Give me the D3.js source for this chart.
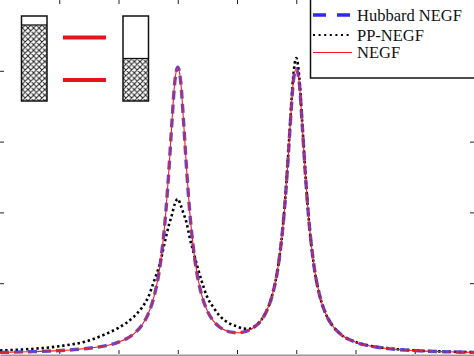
<!DOCTYPE html>
<html>
<head>
<meta charset="utf-8">
<script src="https://cdn.jsdelivr.net/npm/d3@7/dist/d3.min.js"></script>
<style>
  html, body { margin: 0; padding: 0; background: #fff; }
  svg { display: block; }
</style>
</head>
<body>
<svg id="chart" width="474" height="356"></svg>
<script>
// ---- data ----
const energy = [-4, -3.5, -3, -2.5, -2.25, -2, -1.75, -1.6, -1.5, -1.4, -1.3, -1.2, -1.15, -1.1, -1.05, -1,
  -0.95, -0.9, -0.85, -0.8, -0.7, -0.6, -0.5, -0.4, -0.3, -0.2, -0.1, 0, 0.1, 0.2, 0.3, 0.4, 0.5, 0.6, 0.7,
  0.8, 0.85, 0.9, 0.95, 1, 1.05, 1.1, 1.15, 1.2, 1.3, 1.4, 1.5, 1.6, 1.75, 2, 2.25, 2.5, 3, 3.5, 4];

const hubbardNEGF = [0.023, 0.032, 0.048, 0.081, 0.112, 0.167, 0.279, 0.413, 0.564, 0.811, 1.241, 2.017, 2.588, 3.250, 3.841, 4.05,
  3.845, 3.258, 2.600, 2.032, 1.265, 0.844, 0.608, 0.468, 0.385, 0.335, 0.308, 0.300, 0.308, 0.335, 0.385, 0.468, 0.608, 0.844, 1.265,
  2.032, 2.600, 3.258, 3.845, 4.03, 3.841, 3.250, 2.588, 2.017, 1.241, 0.811, 0.564, 0.413, 0.279, 0.167, 0.112, 0.081, 0.048, 0.032, 0.023];

const ppNEGF = [0.05, 0.07, 0.11, 0.19, 0.27, 0.37, 0.52, 0.66, 0.80, 1.03, 1.28, 1.65, 1.82, 1.96, 2.12, 2.19,
  2.10, 1.98, 1.85, 1.65, 1.33, 1.04, 0.80, 0.66, 0.545, 0.47, 0.42, 0.39, 0.36, 0.355, 0.39, 0.47, 0.61, 0.85, 1.27,
  2.04, 2.62, 3.30, 3.93, 4.18, 3.92, 3.28, 2.60, 2.02, 1.24, 0.81, 0.565, 0.415, 0.28, 0.17, 0.115, 0.085, 0.05, 0.035, 0.025];

const negf = [0.023, 0.032, 0.048, 0.081, 0.112, 0.167, 0.279, 0.413, 0.564, 0.811, 1.241, 2.017, 2.588, 3.250, 3.841, 4.05,
  3.845, 3.258, 2.600, 2.032, 1.265, 0.844, 0.608, 0.468, 0.385, 0.335, 0.308, 0.300, 0.308, 0.335, 0.385, 0.468, 0.608, 0.844, 1.265,
  2.032, 2.600, 3.258, 3.845, 4.03, 3.841, 3.250, 2.588, 2.017, 1.241, 0.811, 0.564, 0.413, 0.279, 0.167, 0.112, 0.081, 0.048, 0.032, 0.023];

const xTicks = [-3, -2, -1, 0, 1, 2, 3];
const yTicks = [1, 2, 3, 4];
const legendLabels = ["Hubbard NEGF", "PP-NEGF", "NEGF"];

// ---- drawing ----
const W = 474, H = 356;
const svg = d3.select("#chart");
const x = d3.scaleLinear().domain([-4, 4]).range([0, W]);
const y = d3.scaleLinear().domain([0, 5]).range([354, 0]);

const defs = svg.append("defs");
const pat = defs.append("pattern").attr("id", "hatch")
  .attr("patternUnits", "userSpaceOnUse").attr("width", 5.6).attr("height", 5.6);
pat.append("path").attr("d", "M0,0 L5.6,5.6 M5.6,0 L0,5.6 M-1,4.6 L1,6.6 M4.6,-1 L6.6,1")
  .attr("stroke", "#222").attr("stroke-width", 1).attr("fill", "none");

// axes
const axStyle = g => {
  g.selectAll(".tick line").attr("stroke", "#222").attr("stroke-width", 1);
  g.selectAll("text").remove();
};
svg.append("g").attr("transform", "translate(0,354)")
  .call(d3.axisBottom(x).tickValues(xTicks).tickSize(-4).tickSizeOuter(0).tickFormat(""))
  .call(axStyle)
  .call(g => g.select(".domain").attr("stroke", "#999").attr("stroke-width", 2).attr("transform", "translate(0,1)"));
svg.append("g").attr("transform", "translate(0,0)")
  .call(d3.axisTop(x).tickValues(xTicks).tickSize(-4).tickSizeOuter(0).tickFormat(""))
  .call(axStyle).call(g => g.select(".domain").remove());
svg.append("g").attr("transform", "translate(0,0)")
  .call(d3.axisLeft(y).tickValues(yTicks).tickSize(-4).tickSizeOuter(0).tickFormat(""))
  .call(axStyle).call(g => g.select(".domain").remove());
svg.append("g").attr("transform", `translate(${W},0)`)
  .call(d3.axisRight(y).tickValues(yTicks).tickSize(-4).tickSizeOuter(0).tickFormat(""))
  .call(axStyle).call(g => g.select(".domain").remove());

// curves
const line = vals => d3.line()
  .x((d, i) => x(energy[i]))
  .y(d => y(d))
  .curve(d3.curveMonotoneX)(vals);

svg.append("path").attr("d", line(ppNEGF)).attr("fill", "none")
  .attr("stroke", "#000").attr("stroke-width", 2.6).attr("stroke-dasharray", "2.4,2.8");
svg.append("path").attr("d", line(hubbardNEGF)).attr("fill", "none")
  .attr("stroke", "#4a38d6").attr("stroke-width", 3.4).attr("stroke-dasharray", "9,5").attr("opacity", 0.9);
svg.append("path").attr("d", line(negf)).attr("fill", "none")
  .attr("stroke", "#ee1c25").attr("stroke-width", 1.1);

// inset: occupation schematic
const inset = svg.append("g");
function box(bx, by, bw, bh, splitY) {
  inset.append("rect").attr("x", bx).attr("y", splitY).attr("width", bw).attr("height", by + bh - splitY)
    .attr("fill", "url(#hatch)");
  inset.append("rect").attr("x", bx).attr("y", by).attr("width", bw).attr("height", bh)
    .attr("fill", "none").attr("stroke", "#111").attr("stroke-width", 1.5);
  inset.append("line").attr("x1", bx).attr("x2", bx + bw).attr("y1", splitY).attr("y2", splitY)
    .attr("stroke", "#111").attr("stroke-width", 1.3);
}
box(21.5, 16, 25.5, 85, 25);
box(123, 16, 25.5, 85, 58.5);
[37.5, 80].forEach(ly => inset.append("line").attr("x1", 63).attr("x2", 106).attr("y1", ly).attr("y2", ly)
  .attr("stroke", "#e8141c").attr("stroke-width", 4));

// legend
const lg = svg.append("g");
lg.append("rect").attr("x", 310.5).attr("y", -5).attr("width", 200).attr("height", 83)
  .attr("fill", "#fff").attr("stroke", "#111").attr("stroke-width", 1.5);
const legendStyles = [
  { stroke: "#2b2bef", w: 3.5, dash: "13,11", cy: 15 },
  { stroke: "#000", w: 2, dash: "2,3.6", cy: 35 },
  { stroke: "#ee1c25", w: 1, dash: null, cy: 52.5 }
];
legendLabels.forEach((lab, i) => {
  const s = legendStyles[i];
  lg.append("line").attr("x1", 313).attr("x2", 352).attr("y1", s.cy).attr("y2", s.cy)
    .attr("stroke", s.stroke).attr("stroke-width", s.w).attr("stroke-dasharray", s.dash);
  lg.append("text").attr("x", 357).attr("y", s.cy + 5.5).text(lab)
    .attr("font-family", "'Liberation Serif', 'Times New Roman', serif").attr("font-size", 16.5)
    .attr("fill", "#111");
});
</script>
</body>
</html>
